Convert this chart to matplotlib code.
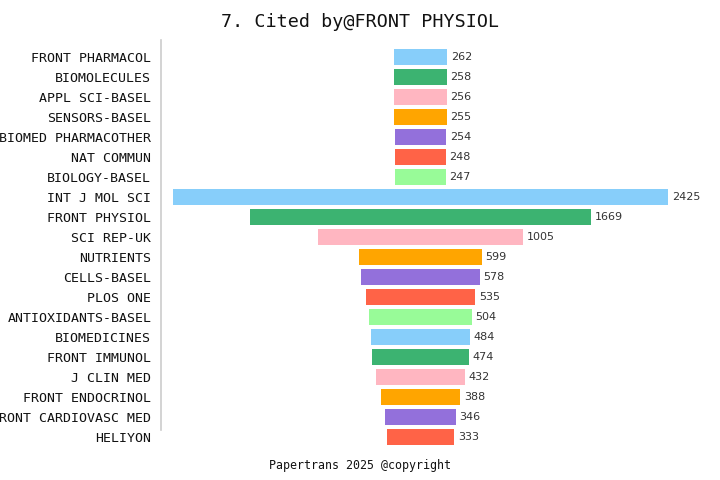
import matplotlib
matplotlib.use("Agg")
import matplotlib.pyplot as plt

journals = ["FRONT PHARMACOL", "BIOMOLECULES", "APPL SCI-BASEL", "SENSORS-BASEL",
            "BIOMED PHARMACOTHER", "NAT COMMUN", "BIOLOGY-BASEL", "INT J MOL SCI",
            "FRONT PHYSIOL", "SCI REP-UK", "NUTRIENTS", "CELLS-BASEL", "PLOS ONE",
            "ANTIOXIDANTS-BASEL", "BIOMEDICINES", "FRONT IMMUNOL", "J CLIN MED",
            "FRONT ENDOCRINOL", "FRONT CARDIOVASC MED", "HELIYON"]
counts = [262, 258, 256, 255, 254, 248, 247, 2425, 1669, 1005, 599, 578, 535,
          504, 484, 474, 432, 388, 346, 333]
palette = ["#87CEFA", "#3CB371", "#FFB6C1", "#FFA500", "#9370DB", "#FF6347", "#98FB98"]
title = "7. Cited by@FRONT PHYSIOL"
footer = "Papertrans 2025 @copyright"

mono = "DejaVu Sans Mono"

fig = plt.figure(figsize=(7.2, 4.8), dpi=100)
W, H = 720, 480
# axes spans from px x 161..680, y 40..450 (spine trimmed to 430)
ax = fig.add_axes([161 / W, 1 - 450 / H, (680 - 161) / W, (450 - 40) / H])

n = len(journals)
ys = list(range(n))
colors = [palette[i % len(palette)] for i in range(n)]
lefts = [-v / 2 for v in counts]
ax.barh(ys, counts, left=lefts, height=0.8, color=colors, zorder=2)

for y, v in zip(ys, counts):
    ax.text(v / 2 + 18, y, str(v), va="center", ha="left", fontsize=8,
            color="#333333", family="DejaVu Sans")

ax.set_xlim(-1271, 1271)
# row pitch 20px; top of axes (40px) -> -0.875
ax.set_ylim((450 - 57.5) / 20, -0.875)
ax.set_yticks(ys)
ax.set_yticklabels(journals, fontfamily=mono, fontsize=9.5, color="#111111")
ax.tick_params(axis="y", length=0, pad=7)
ax.set_xticks([])

for s in ["top", "right", "bottom"]:
    ax.spines[s].set_visible(False)
ax.spines["left"].set_color("#cccccc")
ax.spines["left"].set_linewidth(1.2)
ax.spines["left"].set_bounds((430 - 57.5) / 20, -0.875)

fig.text(0.5, 1 - 22 / H, title, ha="center", va="center", fontsize=13.2,
         family=mono, color="#111111")
fig.text(0.5, 1 - 465 / H, footer, ha="center", va="center", fontsize=8.4,
         family=mono, color="#111111")

fig.savefig("out.png", dpi=100)
